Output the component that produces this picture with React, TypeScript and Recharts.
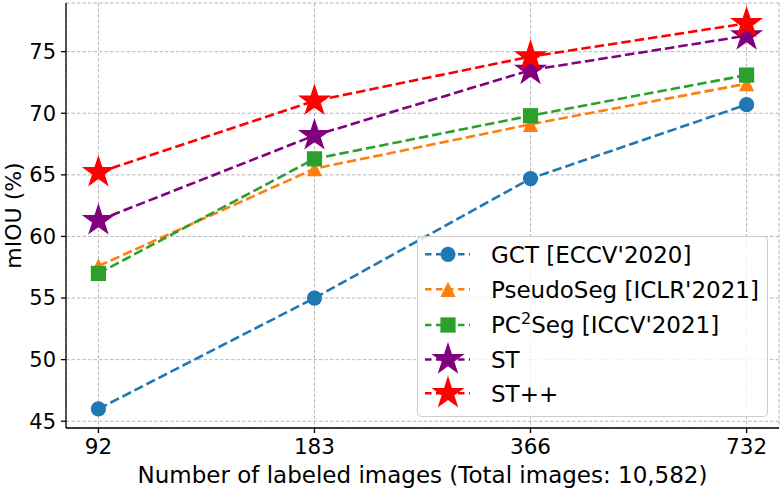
import { LineChart, Line, XAxis, YAxis, CartesianGrid, Legend } from 'recharts';

const categories = ['92', '183', '366', '732'];
const gct = [46.0, 55.0, 64.7, 70.7];
const pseudoSeg = [57.6, 65.5, 69.1, 72.4];
const pc2Seg = [57.0, 66.3, 69.8, 73.1];
const st = [61.3, 68.2, 73.5, 76.3];
const stPlus = [65.2, 71.0, 74.6, 77.3];
const yTicks = [45, 50, 55, 60, 65, 70, 75];

const FONT = '"DejaVu Sans", sans-serif';
const DASH = '9.5 4';

const data = categories.map((c, i) => ({
  idx: i,
  gct: gct[i],
  pseudoSeg: pseudoSeg[i],
  pc2Seg: pc2Seg[i],
  st: st[i],
  stPlus: stPlus[i],
}));

type Kind = 'circle' | 'triangle' | 'square' | 'star';

const series: { key: string; color: string; kind: Kind }[] = [
  { key: 'gct', color: '#1f77b4', kind: 'circle' },
  { key: 'pseudoSeg', color: '#ff7f0e', kind: 'triangle' },
  { key: 'pc2Seg', color: '#2ca02c', kind: 'square' },
  { key: 'st', color: '#800080', kind: 'star' },
  { key: 'stPlus', color: '#ff0000', kind: 'star' },
];

function starPoints(cx: number, cy: number, R: number, r: number) {
  const pts: string[] = [];
  for (let i = 0; i < 10; i++) {
    const rad = i % 2 === 0 ? R : r;
    const a = -Math.PI / 2 + (i * Math.PI) / 5;
    pts.push(`${cx + rad * Math.cos(a)},${cy + rad * Math.sin(a)}`);
  }
  return pts.join(' ');
}

function Marker({ cx, cy, kind, color }: { cx: number; cy: number; kind: Kind; color: string }) {
  if (kind === 'circle') return <circle cx={cx} cy={cy} r={7.6} fill={color} />;
  if (kind === 'square') return <rect x={cx - 7.6} y={cy - 7.6} width={15.2} height={15.2} fill={color} />;
  if (kind === 'triangle')
    return <polygon points={`${cx},${cy - 7.6} ${cx - 7.6},${cy + 7.6} ${cx + 7.6},${cy + 7.6}`} fill={color} />;
  return <polygon points={starPoints(cx, cy, 17.5, 6.7)} fill={color} />;
}

const legendLabels = [
  <tspan>GCT [ECCV'2020]</tspan>,
  <tspan>PseudoSeg [ICLR'2021]</tspan>,
  <tspan>
    PC<tspan dy={-9} fontSize={16}>2</tspan>
    <tspan dy={9}>Seg [ICCV'2021]</tspan>
  </tspan>,
  <tspan>ST</tspan>,
  <tspan>ST++</tspan>,
];

function LegendBox() {
  const rows = [18.3, 53.3, 89, 123.5, 157.3];
  return (
    <svg width={352} height={182} style={{ display: 'block' }}>
      <rect x={0.5} y={0.5} width={350} height={180} rx={4} fill="#ffffff" fillOpacity={0.8} stroke="#cccccc" />
      {series.map((s, i) => (
        <g key={s.key}>
          <line x1={8} x2={53} y1={rows[i]} y2={rows[i]} stroke={s.color} strokeWidth={2.6} strokeDasharray="6.5 4.5" />
          <Marker cx={31} cy={rows[i]} kind={s.kind} color={s.color} />
          <text x={74} y={rows[i]} dy={8.3} fontSize={23} fontFamily={FONT} fill="#000">
            {legendLabels[i]}
          </text>
        </g>
      ))}
    </svg>
  );
}

export default function App() {
  return (
    <div style={{ position: 'absolute', left: 0, top: 0, background: '#fff' }}>
      <LineChart width={781} height={488} data={data} margin={{ top: 3, right: 2, left: 0, bottom: 0 }}>
        <CartesianGrid stroke="#b0b0b0" strokeDasharray="3.5 2" strokeWidth={0.9} />
        <XAxis
          dataKey="idx"
          type="number"
          domain={[-0.15, 3.15]}
          ticks={[0, 1, 2, 3]}
          tickFormatter={(v: number) => categories[v]}
          height={60}
          stroke="#000"
          strokeWidth={1.3}
          tickSize={5}
          tickMargin={6}
          tick={{ fill: '#000', fontSize: 21.5, fontFamily: FONT }}
          label={{
            value: 'Number of labeled images (Total images: 10,582)',
            position: 'insideBottom',
            offset: 5,
            fill: '#000',
            fontSize: 23,
            fontFamily: FONT,
          }}
        />
        <YAxis
          type="number"
          domain={[44.45, 78.95]}
          ticks={yTicks}
          width={66}
          stroke="#000"
          strokeWidth={1.3}
          tickSize={5}
          tickMargin={5}
          tick={{ fill: '#000', fontSize: 21, fontFamily: FONT }}
          label={{
            content: (props: any) => {
              const vb = props.viewBox || { x: 0, y: 3, height: 425 };
              const cy = vb.y + vb.height / 2;
              return (
                <text x={21} y={cy} transform={`rotate(-90 21 ${cy})`} textAnchor="middle" fontSize={22} fontFamily={FONT} fill="#000">
                  mIOU (%)
                </text>
              );
            },
          }}
        />
        {series.map((s) => (
          <Line
            key={s.key}
            dataKey={s.key}
            type="linear"
            stroke={s.color}
            strokeWidth={2.6}
            strokeDasharray={DASH}
            isAnimationActive={false}
            activeDot={false}
            dot={(p: any) => <Marker key={`${s.key}-${p.index}`} cx={p.cx} cy={p.cy} kind={s.kind} color={s.color} />}
          />
        ))}
        <Legend
          layout="horizontal"
          align="center"
          verticalAlign="middle"
          wrapperStyle={{ left: 417, top: 236, width: 352, height: 182 }}
          content={() => <LegendBox />}
        />
      </LineChart>
    </div>
  );
}
